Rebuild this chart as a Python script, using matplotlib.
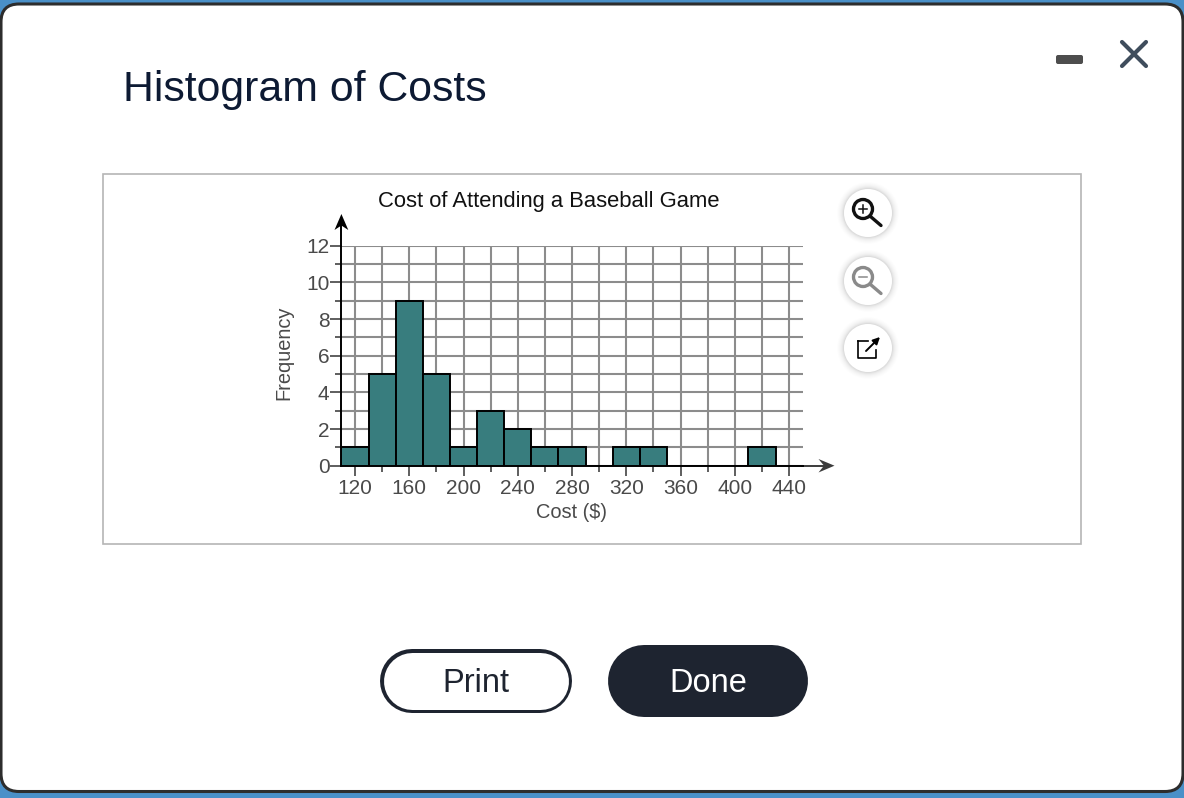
import matplotlib
matplotlib.use("Agg")
import matplotlib.pyplot as plt
from matplotlib.patches import FancyBboxPatch, Rectangle, Circle, Polygon

plt.rcParams['font.family'] = ['Liberation Sans', 'DejaVu Sans']

# CONFIG
W, H = 1184, 798
TEAL = '#387d7e'
GRID = '#8c8c8c'
TEXT = '#4a4a4a'
DARK = '#1e2430'

# data
bin_left = [110, 130, 150, 170, 190, 210, 230, 250, 270, 290, 310, 330, 350, 370, 390, 410]
freq = [1, 5, 9, 5, 1, 3, 2, 1, 1, 0, 1, 1, 0, 0, 0, 1]
bin_width = 20
x_major = [120, 160, 200, 240, 280, 320, 360, 400, 440]
x_minor = [140, 180, 220, 260, 300, 340, 380, 420]
y_major = [0, 2, 4, 6, 8, 10, 12]
y_minor = [1, 3, 5, 7, 9, 11]

fig = plt.figure(figsize=(W / 100, H / 100), dpi=100, facecolor='white')

# page layer in pixel coords
bg = fig.add_axes([0, 0, 1, 1])
bg.set_xlim(0, W)
bg.set_ylim(H, 0)
bg.axis('off')


def rbox(ax, x0, y0, x1, y1, r, **kw):
    p = FancyBboxPatch((x0 + r, y0 + r), x1 - x0 - 2 * r, y1 - y0 - 2 * r,
                       boxstyle=f"round,pad={r},rounding_size={r}", **kw)
    ax.add_patch(p)


def pill(ax, x0, x1, y, height, color, z=2):
    # thick line with round caps gives true half circle ends
    r = height / 2
    ax.plot([x0 + r, x1 - r], [y, y], color=color, lw=height * 0.72,
            solid_capstyle='round', zorder=z)


# dialog frame
bg.add_patch(Rectangle((0, 0), W, H, fc='#4a90c8', ec='none'))
rbox(bg, 1, 4, W - 1, 791.5, 18, fc='white', ec='#2d2d2d', lw=2.2)

bg.text(123, 89.5, "Histogram of Costs", fontsize=30.8, color='#0d1a33', va='center', ha='left')
bg.add_patch(Rectangle((103, 174), 978, 370, fc='white', ec='#b5b5b5', lw=1.2))

# minimize and close
rbox(bg, 1056, 55, 1083, 64, 2, fc='#4d4d4d', ec='none')
bg.plot([1122, 1146], [42, 66], color='#3f4d5c', lw=3, solid_capstyle='round')
bg.plot([1146, 1122], [42, 66], color='#3f4d5c', lw=3, solid_capstyle='round')

# buttons
pill(bg, 380, 572, 681, 64, DARK)
pill(bg, 383.5, 568.5, 681, 57, 'white', z=3)
bg.text(476, 683, "Print", fontsize=23.5, color=DARK, ha='center', va='center', zorder=4)
pill(bg, 608, 808, 681, 72, DARK)
bg.text(708, 683, "Done", fontsize=23.5, color='white', ha='center', va='center', zorder=4)

# side icons
for cy in [213, 281, 348]:
    for r, a in [(31, 0.008), (30, 0.01), (29, 0.012), (28, 0.015), (27, 0.02), (26, 0.03), (25, 0.04)]:
        bg.add_patch(Circle((868, cy), r, fc='black', ec='none', alpha=a))
    bg.add_patch(Circle((868, cy), 24, fc='white', ec='none'))
for cy, col, sign in [(213, '#111111', '+'), (281, '#8a8a8a', '-')]:
    bg.add_patch(Circle((863, cy - 4), 9.5, fc='none', ec=col, lw=2.4))
    bg.plot([870.5, 881], [cy + 3.5, cy + 12.5], color=col, lw=2.4, solid_capstyle='round')
    bg.plot([859, 867], [cy - 4, cy - 4], color=col, lw=1.1)
    if sign == '+':
        bg.plot([863, 863], [cy - 8, cy], color=col, lw=1.1)
bg.plot([857.5, 857.5, 876, 876], [341, 358, 358, 350], color='black', lw=1.2)
bg.plot([857.5, 868], [341, 341], color='black', lw=1.2)
bg.annotate('', xy=(880, 337), xytext=(866, 351),
            arrowprops=dict(arrowstyle='-|>', color='black', lw=1.4, mutation_scale=10, shrinkA=0, shrinkB=0))

# chart axes, placed to match the reference
left, right, top, bottom = 341.4, 802.7, 245.7, 465.7
ax = fig.add_axes([left / W, 1 - bottom / H, (right - left) / W, (bottom - top) / H])
ax.set_xlim(110, 450)
ax.set_ylim(0, 12)
ax.patch.set_alpha(0)
for s in ax.spines.values():
    s.set_visible(False)

for v in x_major + x_minor:
    ax.axvline(v, color=GRID, lw=1.5, zorder=1)
for v in y_major + y_minor:
    ax.axhline(v, color=GRID, lw=1.5, zorder=1)

ax.bar(bin_left, freq, width=bin_width, align='edge', color=TEAL, edgecolor='black', lw=1.4, zorder=3)

ax.set_xticks(x_major)
ax.set_xticks(x_minor, minor=True)
ax.set_yticks(y_major)
ax.set_yticks(y_minor, minor=True)
ax.tick_params(axis='x', which='major', length=7, width=1.1, color='#333333', labelsize=15, labelcolor=TEXT, pad=2.5)
ax.tick_params(axis='x', which='minor', length=4, width=1.1, color='#333333')
ax.tick_params(axis='y', which='major', length=8, width=1.1, color='#333333', labelsize=15, labelcolor=TEXT, pad=0.5)
ax.tick_params(axis='y', which='minor', length=4, width=1.1, color='#333333')

# axis lines and notched arrow heads, on top of the grid
ax.plot([110, 110], [0, 12], color='black', lw=1.4, zorder=4, clip_on=False)
ax.plot([110, 450], [0, 0], color='black', lw=1.4, zorder=2, clip_on=False)
bg.plot([802, 825], [465.7, 465.7], color='#3c3c3c', lw=1.4)
bg.plot([341.4, 341.4], [226, 246], color='black', lw=1.4)
bg.add_patch(Polygon([(834.5, 465.7), (818.5, 459), (824, 465.7), (818.5, 472.5)], fc='#3c3c3c', ec='none'))
bg.add_patch(Polygon([(341.4, 214), (334.5, 230), (341.4, 225.5), (348.3, 230)], fc='black', ec='none'))

bg.text(549, 201, "Cost of Attending a Baseball Game", fontsize=15.8, color='#111111', ha='center', va='center')
bg.text(572, 513, "Cost ($)", fontsize=14.4, color=TEXT, ha='center', va='center')
bg.text(284, 352.5, "Frequency", fontsize=14.4, color=TEXT, ha='center', va='center', rotation=90)

fig.savefig("out.png", dpi=100)
